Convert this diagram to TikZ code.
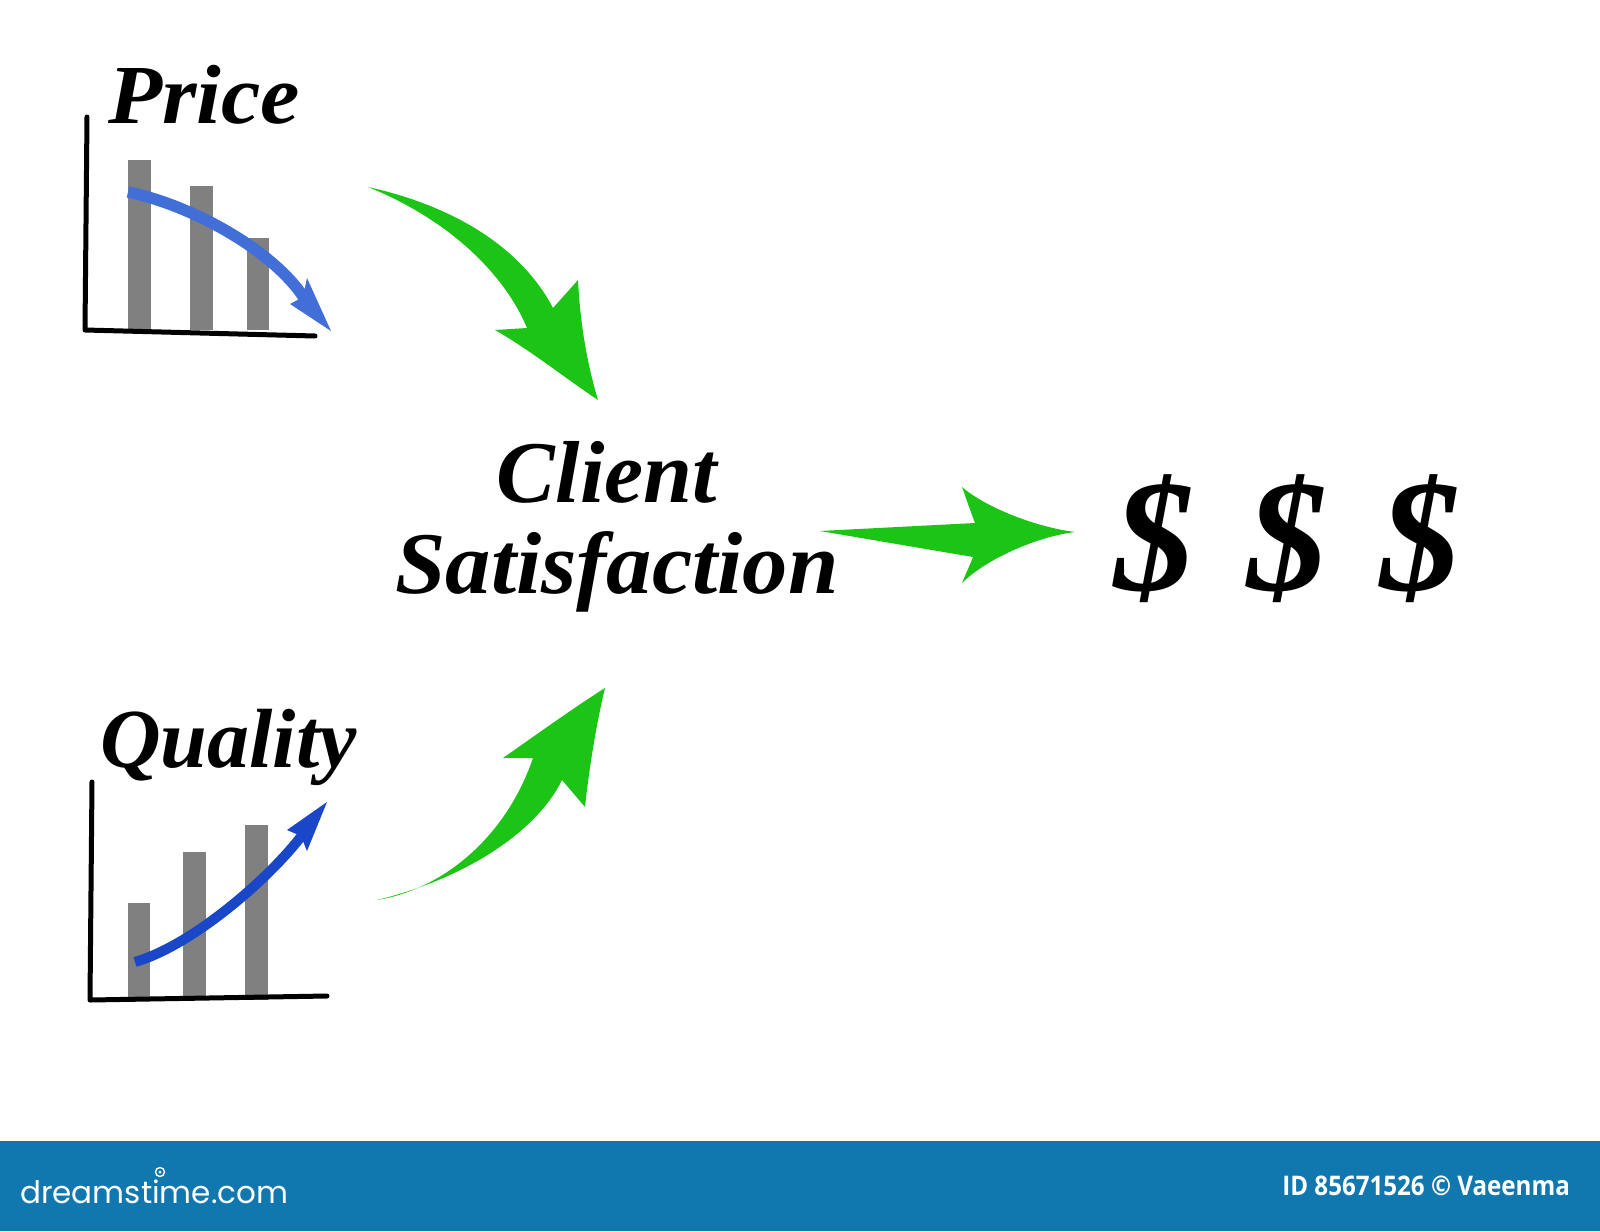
\documentclass[tikz,border=0pt]{standalone}
\usepackage{fontspec}
\setmainfont{Liberation Serif}
\newfontfamily\idfont{Open Sans}
\newfontfamily\logofont{Poppins}
\definecolor{grn}{RGB}{28,196,22}
\definecolor{barc}{RGB}{128,128,128}
\definecolor{blueA}{RGB}{66,110,215}
\definecolor{blueB}{RGB}{26,70,200}
\definecolor{bannerc}{RGB}{17,119,175}
\tikzset{
  lbl/.style={inner sep=0, font=\bfseries\itshape\fontsize{84}{84}\selectfont},
  big/.style={inner sep=0, font=\bfseries\itshape\fontsize{88}{88}\selectfont},
  dollar/.style={inner sep=0, anchor=base, font=\bfseries\itshape\fontsize{160}{160}\selectfont},
  axisline/.style={line width=5pt, line cap=round, line join=round},
  barbox/.style={fill=barc},
  garrow/.style={fill=grn},
}
\begin{document}
\begin{tikzpicture}[x=1pt,y=-1pt]
\useasboundingbox (0,0) rectangle (1600,1231);
\fill[white] (0,0) rectangle (1600,1231);

% ---------- Price chart ----------
\fill[barbox] (128,160) rectangle (151,330);
\fill[barbox] (190,186) rectangle (213,330);
\fill[barbox] (247,238) rectangle (269,330);
\draw[blueA, line width=11.5pt] (128,192) .. controls (195,206) and (277,253) .. (306,301);
\fill[blueA] (290,304) -- (331,331) -- (307,278) -- (303,297) -- cycle;
\draw[axisline] (87,117) -- (85,330) -- (315,336);
\node[lbl, anchor=base west] (price) at (108,123) {\scalebox{1.055}[1]{Price}};

% ---------- Quality chart ----------
\fill[barbox] (128,903) rectangle (150,1000);
\fill[barbox] (183,852) rectangle (206,1000);
\fill[barbox] (245,825) rectangle (268,1000);
\draw[blueB, line width=10pt] (135,962) .. controls (193,945) and (270,878) .. (303,834);
\fill[blueB] (287,830) -- (327,802) -- (307,851) -- (301,836) -- cycle;
\draw[axisline] (92,782) -- (90,1000) -- (327,996);
\node[lbl, anchor=base west] (quality) at (100,767) {Quality};

% ---------- Centre text ----------
\node[big, anchor=base] (client) at (607,502) {Client};
\node[big, anchor=base] (satisf) at (617,593) {\scalebox{1.03}[1]{Satisfaction}};

% ---------- Green arrows ----------
\fill[garrow] (368,187) .. controls (450,205) and (520,245) .. (553,308)
  -- (578,280) .. controls (580,320) and (586,360) .. (598,400)
  .. controls (565,378) and (530,350) .. (495,330)
  -- (527,328) .. controls (505,275) and (450,220) .. (368,187) -- cycle;

\fill[garrow] (377,900) .. controls (440,890) and (505,840) .. (533,758)
  -- (503,758) .. controls (540,732) and (575,707) .. (605,688)
  .. controls (596,725) and (589,770) .. (585,807)
  -- (562,780) .. controls (535,835) and (460,880) .. (377,900) -- cycle;

\fill[garrow] (820,531) -- (975,523) .. controls (970,510) and (966,498) .. (962,487)
  .. controls (985,507) and (1035,527) .. (1075,532)
  .. controls (1035,537) and (985,560) .. (962,583)
  .. controls (966,573) and (970,565) .. (973,557) -- cycle;

% ---------- Dollars ----------
\node[dollar] (d1) at (1154,590) {\$};
\node[dollar] (d2) at (1287,590) {\$};
\node[dollar] (d3) at (1420,590) {\$};

% ---------- Banner ----------
\fill[bannerc] (0,1141) rectangle (1600,1231);
\node[inner sep=0, anchor=base west, text=white, font=\logofont\fontsize{31}{31}\selectfont] (logo) at (20,1203) {dreamstime.com};
\draw[white, line width=1.4pt] (160,1172) circle (4.5);
\fill[white] (160,1172) circle (1.5);
\node[inner sep=0, anchor=base east, text=white, font=\idfont\bfseries\fontsize{27}{27}\selectfont] (idtxt) at (1570,1195) {\scalebox{0.894}[1]{ID 85671526 © Vaeenma}};
\end{tikzpicture}
\end{document}
